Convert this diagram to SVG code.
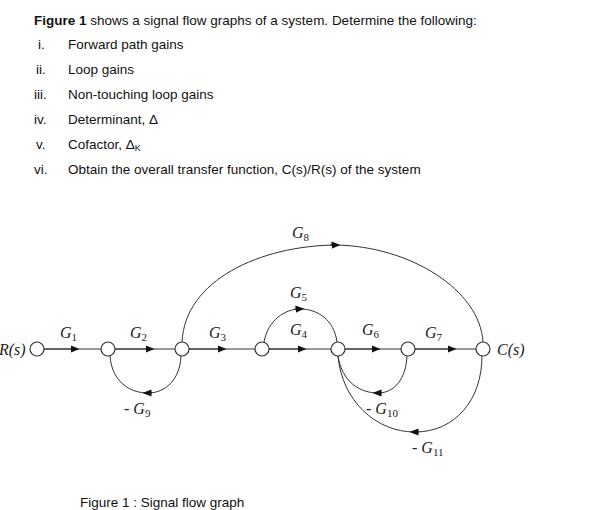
<svg xmlns="http://www.w3.org/2000/svg" width="610" height="510" viewBox="0 0 610 510">
<style>
.t{font-family:"Liberation Sans",Arial,sans-serif;font-size:13.5px;fill:#111}
.m{font-family:"Liberation Serif","Times New Roman",serif;font-style:italic;font-size:16px;fill:#222}
.s{font-size:11px;font-style:normal}
.n{fill:#fff;stroke:#333;stroke-width:1.2}
.e{fill:none;stroke:#333;stroke-width:1}
</style>
<defs><marker id="a" viewBox="0 0 10 10" refX="5" refY="5" markerWidth="9" markerHeight="9" orient="auto"><path d="M0,1 L10,5 L0,9 Z" fill="#111"/></marker></defs>
<rect width="610" height="510" fill="#fff"/>
<g id="text">
<text class="t" x="34" y="25"><tspan font-weight="bold">Figure 1</tspan> shows a signal flow graphs of a system. Determine the following:</text>
<text class="t" x="38" y="49">i.</text><text class="t" x="68" y="49">Forward path gains</text>
<text class="t" x="36" y="74">ii.</text><text class="t" x="68" y="74">Loop gains</text>
<text class="t" x="34" y="99">iii.</text><text class="t" x="68" y="99">Non-touching loop gains</text>
<text class="t" x="34" y="124">iv.</text><text class="t" x="68" y="124">Determinant, Δ</text>
<text class="t" x="36" y="149">v.</text><text class="t" x="68" y="149">Cofactor, Δ<tspan font-size="9" dy="2">K</tspan></text>
<text class="t" x="34" y="174">vi.</text><text class="t" x="68" y="174">Obtain the overall transfer function, C(s)/R(s) of the system</text>
<text class="t" x="80" y="507">Figure 1 : Signal flow graph</text>
</g>
<g id="connectors">
<path class="e" d="M44,349 H101"/><path class="e" d="M44,349 H75" marker-end="url(#a)"/>
<path class="e" d="M115,349 H175"/><path class="e" d="M115,349 H150" marker-end="url(#a)"/>
<path class="e" d="M189,349 H255"/><path class="e" d="M189,349 H222" marker-end="url(#a)"/>
<path class="e" d="M269,349 H331"/><path class="e" d="M269,349 H302" marker-end="url(#a)"/>
<path class="e" d="M345,349 H401"/><path class="e" d="M345,349 H376" marker-end="url(#a)"/>
<path class="e" d="M415,349 H476"/><path class="e" d="M415,349 H452" marker-end="url(#a)"/>
<path class="e" d="M182,342 C185,280 260,246 335,245 C410,246 480,290 483,342"/>
<path class="e" d="M330,245.1 L336,245" marker-end="url(#a)"/>
<path class="e" d="M264,342 C268,320 285,309 300,309 C318,309 334,320 337,342"/>
<path class="e" d="M294,309.2 L300,309" marker-end="url(#a)"/>
<path class="e" d="M181,356 C180,380 165,393 148,393 C130,393 112,382 110,356"/>
<path class="e" d="M152,393 L147,393" marker-end="url(#a)"/>
<path class="e" d="M407,356 C406,378 395,393 378,393 C360,393 342,382 338,356"/>
<path class="e" d="M382,393 L377,393" marker-end="url(#a)"/>
<path class="e" d="M482,356 C482,400 455,432 415,432 C375,432 342,400 338,356"/>
<path class="e" d="M419,432 L414,432" marker-end="url(#a)"/>
</g>
<g id="nodes">
<g id="R"><circle class="n" cx="37" cy="349" r="7"/><text class="m" x="-1" y="355">R(s)</text></g>
<g id="n2"><circle class="n" cx="108" cy="349" r="7"/></g>
<g id="n3"><circle class="n" cx="182" cy="349" r="7"/></g>
<g id="n4"><circle class="n" cx="262" cy="349" r="7"/></g>
<g id="n5"><circle class="n" cx="338" cy="349" r="7"/></g>
<g id="n6"><circle class="n" cx="408" cy="349" r="7"/></g>
<g id="C"><circle class="n" cx="483" cy="349" r="7"/><text class="m" x="497" y="355">C(s)</text></g>
</g>
<g id="labels">
<text class="m" x="60" y="338">G<tspan class="s" dy="3">1</tspan></text>
<text class="m" x="130" y="338">G<tspan class="s" dy="3">2</tspan></text>
<text class="m" x="209" y="338">G<tspan class="s" dy="3">3</tspan></text>
<text class="m" x="290" y="335">G<tspan class="s" dy="3">4</tspan></text>
<text class="m" x="290" y="298">G<tspan class="s" dy="3">5</tspan></text>
<text class="m" x="362" y="335">G<tspan class="s" dy="3">6</tspan></text>
<text class="m" x="425" y="338">G<tspan class="s" dy="3">7</tspan></text>
<text class="m" x="292" y="238">G<tspan class="s" dy="3">8</tspan></text>
<text class="m" x="124" y="414">- G<tspan class="s" dy="3">9</tspan></text>
<text class="m" x="366" y="414">- G<tspan class="s" dy="3">10</tspan></text>
<text class="m" x="412" y="453">- G<tspan class="s" dy="3">11</tspan></text>
</g>
</svg>
